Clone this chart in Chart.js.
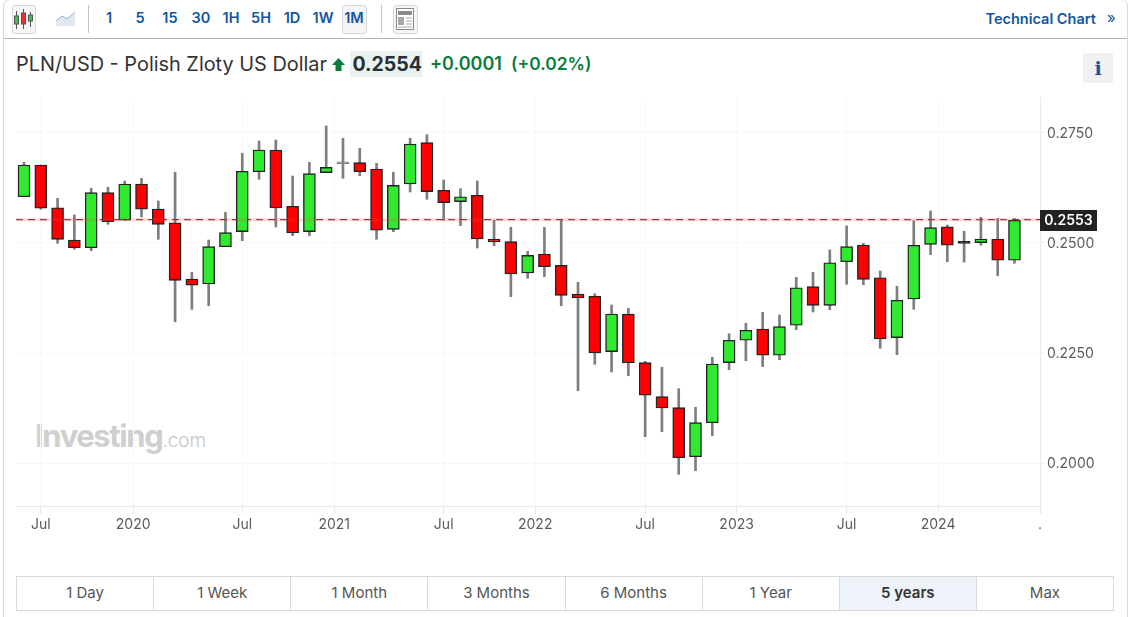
<!DOCTYPE html>
<html>
<head>
<meta charset="utf-8">
<title>PLN/USD</title>
<script src="https://cdn.jsdelivr.net/npm/chart.js@4"></script>
<style>
  html, body { margin: 0; padding: 0; background: #fff; overflow: hidden; }
  body { width: 1137px; height: 617px; position: relative; font-family: Inter, "Noto Sans", sans-serif; color: #333; }
  .abs { position: absolute; white-space: nowrap; }
  #panel { left: 3px; top: -1px; width: 1123px; height: 640px; border: 1px solid #d9d9d9; border-radius: 7px; }
  #toolbar-line { left: 4px; top: 38px; width: 1123px; height: 1px; background: #b4b4b4; }
  .sep { top: 5px; width: 1px; height: 28px; background: #c4c4c4; }
  .iconbox { top: 5px; height: 27px; border: 1px solid #d8d8d8; border-radius: 3px; background: #f5f5f5; }
  .tf { top: 9px; transform: translateX(-50%); font-size: 14.5px; line-height: 18px; font-weight: 600; color: #1256a0; }
  #chart-wrap { left: 0; top: 90px; width: 1137px; height: 460px; }
  #watermark { left: 35px; top: 416px; color: #cfcfcf; font-size: 31px; line-height: 40px; font-weight: 700; letter-spacing: -1.4px; }
  #watermark span { font-size: 19px; font-weight: 300; letter-spacing: 0; color: #c6c6c6; }
  #ranges { left: 16px; top: 576px; width: 1096px; height: 33px; border: 1px solid #d9d9d9; display: flex; }
  #ranges div { flex: 1; text-align: center; line-height: 32px; font-size: 15px; color: #555; border-left: 1px solid #d9d9d9; }
  #ranges div:first-child { border-left: none; }
  #ranges div.on { background: #edf3f9; color: #333; font-weight: 600; }
</style>
</head>
<body>
<div id="panel" class="abs"></div>
<div id="toolbar-line" class="abs"></div>

<div class="abs iconbox" style="left:12px;width:22px"></div>
<svg class="abs" style="left:14px;top:9px" width="22" height="22">
  <path d="M2.5 2v18M9.5 0v20M16.5 3v15" stroke="#555" stroke-width="1"/>
  <rect x="0.5" y="7" width="4" height="8" fill="#3fc34a" stroke="#555"/>
  <rect x="7.5" y="4" width="4" height="11" fill="#f03030" stroke="#555"/>
  <rect x="14.5" y="6" width="4" height="6" fill="#3fc34a" stroke="#555"/>
</svg>
<svg class="abs" style="left:56px;top:11px" width="20" height="16">
  <path d="M0 10L6 5L11 8L19 1V15H0Z" fill="#dfe8f3"/>
  <path d="M0 10L6 5L11 8L19 1" fill="none" stroke="#8fb0d4" stroke-width="1"/>
</svg>
<div class="abs sep" style="left:88px"></div>
<div class="abs tf" style="left:109px">1</div>
<div class="abs tf" style="left:140px">5</div>
<div class="abs tf" style="left:170px">15</div>
<div class="abs tf" style="left:201px">30</div>
<div class="abs tf" style="left:231px">1H</div>
<div class="abs tf" style="left:261px">5H</div>
<div class="abs tf" style="left:292px">1D</div>
<div class="abs tf" style="left:323px">1W</div>
<div class="abs iconbox" style="left:342px;width:23px"></div>
<div class="abs tf" style="left:354px">1M</div>
<div class="abs sep" style="left:381px"></div>
<div class="abs iconbox" style="left:393px;width:23px"></div>
<svg class="abs" style="left:396px;top:8px" width="18" height="22">
  <rect x="0.5" y="0.5" width="17" height="21" fill="#fff" stroke="#8a8a8a"/>
  <rect x="2" y="3" width="14" height="4" fill="#8a8a8a"/>
  <rect x="2" y="9" width="6" height="8" fill="#a8a8a8"/>
  <path d="M10 10h6M10 13h6M10 16h6M2 19h14" stroke="#a8a8a8" stroke-width="1"/>
</svg>
<div class="abs" style="left:985.5px;top:10px;font-size:14.5px;line-height:18px;font-weight:600;color:#1256a0">Technical Chart</div>
<div class="abs" style="left:1107px;top:9px;font-size:15px;line-height:18px;color:#1256a0">»</div>

<div class="abs" style="left:16px;top:53px;font-size:19.9px;line-height:22px;color:#333">PLN/USD - Polish Zloty US Dollar</div>
<svg class="abs" style="left:332px;top:58px" width="14" height="13">
  <path d="M6.5 0L13 7H9.5V13H3.5V7H0Z" fill="#0a7c3e"/>
</svg>
<div class="abs" style="left:350px;top:51px;width:72px;height:26px;background:#e9f3ee;text-align:right;font-size:19.5px;line-height:26px;font-weight:700;color:#2a2e39">0.2554</div>
<div class="abs" style="left:430px;top:53px;font-size:18px;line-height:22px;font-weight:600;color:#0a7c3e">+0.0001</div>
<div class="abs" style="left:511px;top:53px;font-size:17.4px;line-height:22px;font-weight:600;color:#0a7c3e">(+0.02%)</div>
<div class="abs" style="left:1083px;top:53px;width:30px;height:30px;background:#f1f1f1;text-align:center;font-family:'DejaVu Serif',serif;font-size:19px;line-height:30px;font-weight:700;color:#1256a0">i</div>

<div id="watermark" class="abs">Investing<span>.com</span></div>

<div id="chart-wrap" class="abs"><canvas id="candle-chart" width="1137" height="460"></canvas></div>

<div id="ranges" class="abs">
  <div>1 Day</div><div>1 Week</div><div>1 Month</div><div>3 Months</div>
  <div>6 Months</div><div>1 Year</div><div class="on">5 years</div><div>Max</div>
</div>

<script>
// monthly candles (Jun 2019 .. May 2024)
const opens = [
  0.26052, 0.26773, 0.25802, 0.25068, 0.24893, 0.26143, 0.25516, 0.26341, 0.25773, 0.25461,
  0.24182, 0.24068, 0.24916, 0.25257, 0.2662, 0.27114, 0.25834, 0.25257, 0.26598, 0.26802,
  0.26825, 0.26682, 0.25311, 0.26341, 0.2728, 0.26198, 0.25939, 0.26084, 0.25091, 0.2503,
  0.24318, 0.2475, 0.24493, 0.23841, 0.23789, 0.2253, 0.23386, 0.2228, 0.21507, 0.21257,
  0.20143, 0.20916, 0.2228, 0.22789, 0.23045, 0.22448, 0.2313, 0.24007, 0.23584, 0.24575,
  0.24955, 0.24211, 0.22848, 0.23727, 0.2497, 0.2537, 0.25, 0.25007, 0.25091, 0.24607
];
const highs = [
  0.26834, 0.26773, 0.26016, 0.25636, 0.26243, 0.26266, 0.26409, 0.2647, 0.25955, 0.26607,
  0.24334, 0.25068, 0.25698, 0.27039, 0.27318, 0.27341, 0.26523, 0.26834, 0.27659, 0.2738,
  0.27152, 0.26811, 0.26607, 0.2738, 0.27461, 0.26432, 0.26234, 0.26409, 0.25516, 0.25357,
  0.24811, 0.25357, 0.25516, 0.24107, 0.23848, 0.23591, 0.23516, 0.22311, 0.22175, 0.21689,
  0.21266, 0.22402, 0.22939, 0.23175, 0.23425, 0.23364, 0.2422, 0.24334, 0.24841, 0.25386,
  0.24993, 0.24364, 0.24016, 0.25507, 0.25727, 0.25409, 0.25266, 0.25584, 0.25561, 0.25561
];
const lows = [
  0.26052, 0.25766, 0.24993, 0.24857, 0.24825, 0.25425, 0.25516, 0.25591, 0.25084, 0.23211,
  0.23493, 0.23575, 0.24916, 0.25052, 0.26448, 0.25364, 0.25166, 0.25166, 0.26598, 0.2647,
  0.2653, 0.25084, 0.25257, 0.26159, 0.25993, 0.25516, 0.25393, 0.24886, 0.24939, 0.2378,
  0.24198, 0.24234, 0.23575, 0.21643, 0.22243, 0.22068, 0.21984, 0.20598, 0.20711, 0.19743,
  0.19825, 0.2062, 0.2212, 0.22325, 0.22189, 0.22348, 0.2303, 0.23432, 0.23484, 0.24061,
  0.24052, 0.22607, 0.22461, 0.23493, 0.24734, 0.24575, 0.24568, 0.24948, 0.24257, 0.24539
];
const closes = [
  0.26773, 0.25789, 0.25084, 0.24893, 0.26143, 0.25484, 0.26341, 0.25766, 0.25425, 0.24152,
  0.24039, 0.24916, 0.25234, 0.2663, 0.27114, 0.25795, 0.25227, 0.26575, 0.2672, 0.26802,
  0.2662, 0.25289, 0.26311, 0.2725, 0.26166, 0.25916, 0.26052, 0.25091, 0.2503, 0.24295,
  0.2472, 0.24461, 0.23811, 0.2375, 0.225, 0.23386, 0.22273, 0.21539, 0.2125, 0.2012,
  0.20916, 0.2225, 0.22789, 0.23016, 0.22448, 0.23098, 0.23984, 0.23584, 0.24552, 0.24916,
  0.24175, 0.22818, 0.23698, 0.24948, 0.25348, 0.24948, 0.24993, 0.25091, 0.24607, 0.25516
];

const xTickValues = [1, 6.5, 13, 18.48, 25, 30.45, 37, 42.45, 49, 54.45, 60.52];
const xTickLabels = ["Jul", "2020", "Jul", "2021", "Jul", "2022", "Jul", "2023", "Jul", "2024", "."];
const yTickValues = [0.2, 0.225, 0.25, 0.275];
const lastPrice = 0.2553;

const xMin = -0.477;
const xMax = 60.52;
const yMin = 0.19023;
const yMax = 0.28318;

const upColor = "#30ea30";
const downColor = "#ff0000";
const fontFamily = "Inter, 'Noto Sans', sans-serif";

const wickData = highs.map((h, i) => ({ x: i, y: [lows[i], h] }));
const bodyData = opens.map((o, i) => ({ x: i, y: [o, closes[i]] }));
const priceLine = [{ x: xMin, y: lastPrice }, { x: xMax, y: lastPrice }];

function bodyFill(ctx) {
  const o = opens[ctx.dataIndex];
  const c = closes[ctx.dataIndex];
  if (o === c) return "#7f8585";
  if (Math.abs(o - c) < 0.0001) return "#222";
  return c >= o ? upColor : downColor;
}

// black tag with the last price on the right axis
const priceTag = {
  id: "priceTag",
  afterDraw(chart) {
    const c = chart.ctx;
    const y = chart.scales.y.getPixelForValue(lastPrice);
    c.save();
    c.fillStyle = "#222";
    c.fillRect(1040, Math.round(y) - 10, 57, 21);
    c.fillStyle = "#fff";
    c.font = "600 14px " + fontFamily;
    c.textAlign = "center";
    c.textBaseline = "middle";
    c.fillText(lastPrice.toFixed(4), 1068.5, Math.round(y) + 1);
    c.restore();
  },
};

new Chart(document.getElementById("candle-chart"), {
  type: "bar",
  plugins: [priceTag],
  data: {
    datasets: [
      {
        type: "line",
        data: priceLine,
        borderColor: "rgba(255,60,60,0.2)",
        borderWidth: 3,
        pointRadius: 0,
        order: 0,
      },
      {
        type: "line",
        data: priceLine,
        borderColor: "#5a1820",
        borderWidth: 1,
        borderDash: [7, 5],
        pointRadius: 0,
        order: 3,
      },
      {
        data: wickData,
        grouped: false,
        barThickness: 2,
        backgroundColor: "rgba(70,78,78,0.72)",
        borderWidth: 0,
        order: 2,
      },
      {
        data: bodyData,
        grouped: false,
        barThickness: 12,
        minBarLength: 2,
        borderSkipped: false,
        borderWidth: 1.4,
        borderColor: (ctx) => (opens[ctx.dataIndex] === closes[ctx.dataIndex] ? "#7f8585" : "#222"),
        backgroundColor: bodyFill,
        order: 1,
      },
    ],
  },
  options: {
    responsive: false,
    animation: false,
    devicePixelRatio: 1,
    layout: { padding: { left: 16, top: 7, right: 0, bottom: 0 } },
    plugins: { legend: { display: false }, tooltip: { enabled: false } },
    scales: {
      x: {
        type: "linear",
        min: xMin,
        max: xMax,
        offset: false,
        afterBuildTicks: (s) => { s.ticks = xTickValues.map((v) => ({ value: v })); },
        afterFit: (s) => { s.height = 44; s.paddingLeft = 0; s.paddingRight = 0; },
        grid: { offset: false, color: "#f7f8fa", tickColor: "#e6e9f0", tickLength: 8 },
        border: { color: "#e6e9f0" },
        ticks: {
          autoSkip: false,
          maxRotation: 0,
          padding: 2,
          color: "#5b5b5b",
          font: { family: fontFamily, size: 14 },
          callback: (v) => xTickLabels[xTickValues.indexOf(v)],
        },
      },
      y: {
        position: "right",
        min: yMin,
        max: yMax,
        afterBuildTicks: (s) => { s.ticks = yTickValues.map((v) => ({ value: v })); },
        afterFit: (s) => { s.width = 97; s.paddingTop = 0; s.paddingBottom = 0; },
        grid: { color: "#f7f8fa", tickColor: "#e6e9f0", tickLength: 4 },
        border: { color: "#e6e9f0" },
        ticks: {
          padding: 3,
          labelOffset: 1,
          color: "#5b5b5b",
          font: { family: fontFamily, size: 14 },
          callback: (v) => v.toFixed(4),
        },
      },
    },
  },
});
</script>
</body>
</html>
